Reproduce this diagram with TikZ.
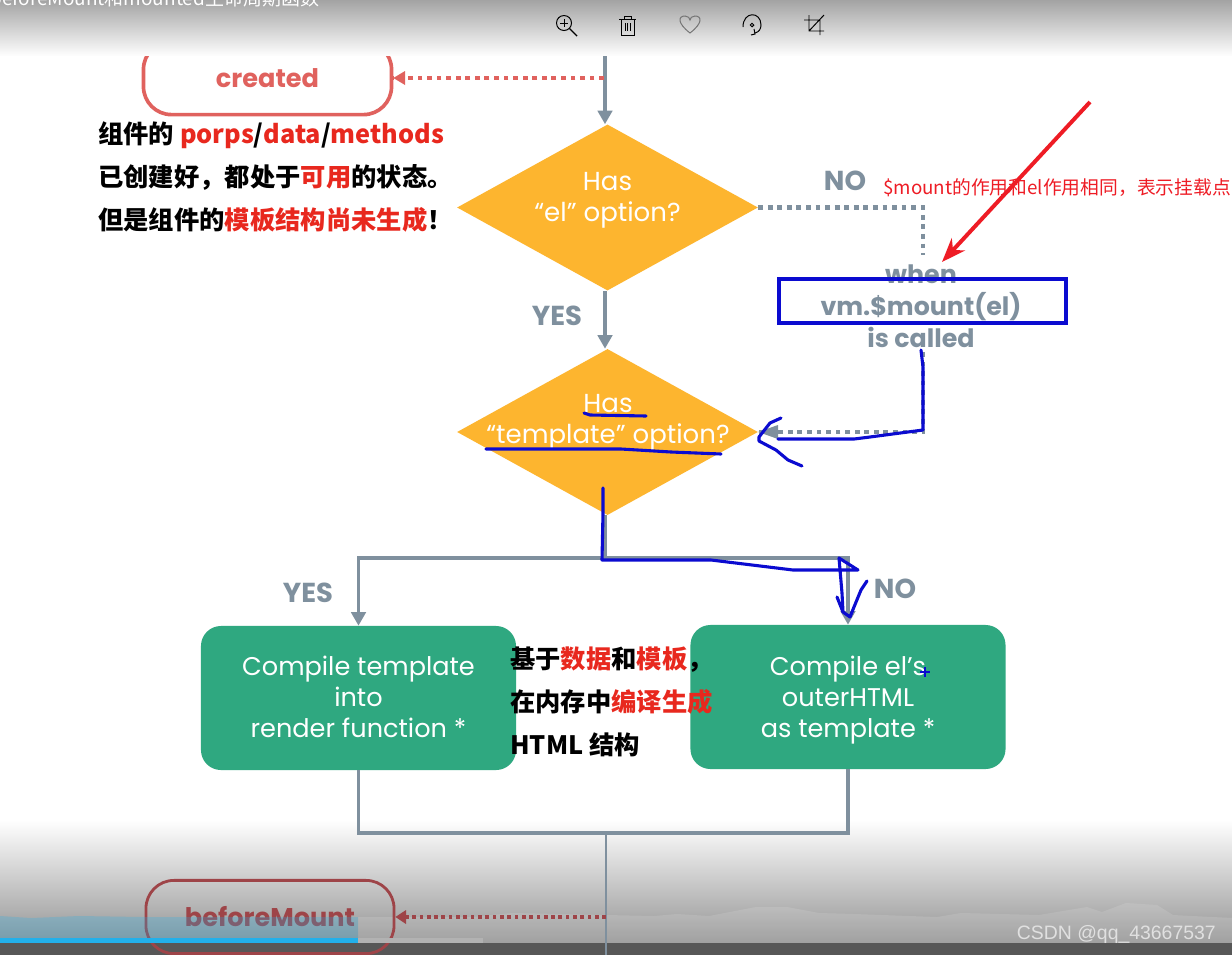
\documentclass[tikz,border=0pt]{standalone}
\usepackage{fontspec}
\setmainfont{Poppins}
\newfontfamily\cjk{Noto Sans CJK SC}
\newfontfamily\wmfont{Liberation Sans}
\usetikzlibrary{positioning,arrows.meta,shapes.geometric}
\definecolor{flowgray}{HTML}{7F909E}
\definecolor{dmdorange}{HTML}{FDB52F}
\definecolor{boxgreen}{HTML}{2FA880}
\definecolor{hookred}{HTML}{E0625E}
\definecolor{darkred}{HTML}{9E4448}
\definecolor{notered}{HTML}{E8281E}
\definecolor{penblue}{HTML}{0B0BD0}
\definecolor{arrowred}{HTML}{EE1C25}
\definecolor{barblue}{HTML}{22B0EA}
\newcommand{\hl}[1]{\textcolor{notered}{#1}}
\tikzset{
  dmd/.style={diamond,fill=dmdorange,inner sep=0pt,minimum width=7.52cm,minimum height=4.15cm},
  dmdtext/.style={text=white,align=center,font=\fontsize{18.5}{22}\selectfont},
  greenbox/.style={fill=boxgreen,rounded corners=0.5cm,minimum width=7.875cm,minimum height=3.6cm},
  boxtext/.style={text=white,align=center,font=\fontsize{18.2}{22.2}\selectfont},
  hookbox/.style={draw=#1,rounded corners=0.7cm,minimum width=6.2cm,minimum height=1.83cm,text=#1,font=\bfseries\fontsize{18.2}{20}\selectfont},
  flowlbl/.style={text=flowgray,font=\bfseries\fontsize{19.5}{22}\selectfont},
  note/.style={anchor=west,inner sep=0pt,align=left,font=\cjk\bfseries\fontsize{18}{30.6}\selectfont},
  flow/.style={draw=flowgray,line width=2.8pt},
  dots/.style={line width=3pt,dash pattern=on 3.4pt off 3.4pt},
  pen/.style={draw=penblue,line width=2.2pt,line cap=round,line join=round},
  icon/.style={draw=black,line width=0.7pt}
}
\begin{document}
\begin{tikzpicture}[x=0.025cm,y=-0.025cm,>={Triangle[length=3.4mm,width=3.6mm]}]
\useasboundingbox (0,0) rectangle (1232,955);
\clip (0,0) rectangle (1232,955);
\fill[white] (0,0) rectangle (1232,955);
\shade[top color=white,bottom color=black!42] (0,820) rectangle (1232,943);
\fill[fill=white,opacity=.12] (358,917) -- (472,917) -- (512,913) -- (606,915) -- (654,916) -- (677,914) -- (709,916) -- (756,907) -- (787,907) -- (819,913) -- (854,914) -- (937,917) -- (961,913) -- (1039,915) -- (1087,907) -- (1102,912) -- (1126,903) -- (1157,905) -- (1173,915) -- (1232,918) -- (1232,943) -- (358,943) -- cycle;
\fill[black!66] (0,943) rectangle (1232,955);
\node[hookbox=hookred,line width=2.6pt] (created) at (267.5,78) {created};
\node[hookbox=darkred,line width=2pt] (beforemount) at (270,917) {beforeMount};
\fill[fill=barblue,opacity=.25] (0,916) -- (31,918) -- (79,916) -- (142,917) -- (358,917) -- (358,938) -- (0,938) -- cycle;
\fill[black!30] (358,938) rectangle (483,943);
\fill[barblue] (0,938) rectangle (358,943);
\node[dmd] (d1) at (607.5,207.5) {};
\node[dmd] (d2) at (607.5,432) {};
\node[dmdtext] (d1text) at (607.5,200) {Has\\“el” option?};
\node[dmdtext] (d2text) at (608,422) {Has\\“template” option?};
\node[greenbox] (leftbox) at (358.5,698) {};
\node[greenbox] (rightbox) at (848,697) {};
\node[boxtext] (lefttext) at (358.5,696.7) {Compile template\\into\\render function *};
\node[boxtext] (righttext) at (848,700) {Compile el’s\\outerHTML\\as template *};
\node[flowlbl,align=center,font=\bfseries\fontsize{18}{22.8}\selectfont] (called) at (921,306.5) {when\\vm.\$mount(el)\\is called};
\node[flowlbl] (yes1) at (557,316) {YES};
\node[flowlbl] (no1) at (845,181) {NO};
\node[flowlbl] (yes2) at (308,593) {YES};
\node[flowlbl] (no2) at (895,589) {NO};
\coordinate (topin) at (605,40);
\coordinate (split) at (605,558);
\coordinate (merge) at (606,833);
\coordinate (bottomout) at (606,955);
\coordinate (hookone) at (604,78);
\coordinate (hooktwo) at (606,917);
\coordinate (corner1) at (923,207.5);
\coordinate (dotsend) at (923,255);
\coordinate (corner2) at (923,432);
\coordinate (calledend) at (923,352);
\draw[flow,->] (topin) -- (topin |- d1.north);
\draw[flow,->] (topin |- d1.south) -- (topin |- d2.north);
\draw[flow] (topin |- d2.south) -- (split);
\draw[flow,->] (split) -| (leftbox.north);
\draw[flow,->] (split) -| (rightbox.north);
\draw[flow] (leftbox.south) |- (merge) -| (rightbox.south);
\draw[flow,line width=2pt] (merge) -- (bottomout);
\draw[draw=flowgray,dots] (d1.east) -- (corner1) -- (dotsend);
\draw[draw=flowgray,dots] (calledend) -- (corner2) -- (d2.east);
\fill[flowgray] (d2.east) -- (778,425) -- (778,439) -- cycle;
\draw[draw=hookred,dots] (hookone) -- (created.east);
\fill[hookred] (created.east) -- (405,71) -- (405,85) -- cycle;
\draw[draw=darkred,line width=2.2pt,dash pattern=on 2.6pt off 2.6pt] (hooktwo) -- (beforemount.east);
\fill[darkred] (beforemount.east) -- (406,910) -- (406,924) -- cycle;
\shade[top color=black!36,middle color=black!12,bottom color=black!1] (0,0) rectangle (1232,55);
\node[text=white,anchor=west,inner sep=0pt,font=\cjk\fontsize{13.5}{16}\selectfont] (title) at (-10,-2) {beforeMount和mounted生命周期函数};
\node[note] (notecreated) at (98,177) {组件的 \hl{porps}/\hl{data}/\hl{methods}\\已创建好，都处于\hl{可用}的状态。\\但是组件的\hl{模板结构尚未生成}！};
\node[note] (notecompile) at (510,702) {基于\hl{数据}和\hl{模板}，\\在内存中\hl{编译生成}\\HTML 结构};
\node[anchor=west,inner sep=0pt,text=arrowred,font=\cjk\fontsize{13.35}{16}\selectfont] (mountnote) at (883,188) {\$mount的作用和el作用相同，表示挂载点};
\draw[arrowred,line width=2.8pt,-{Stealth[length=6mm,width=4.5mm]}] (1090,102) -- (942,262);
\draw[penblue,line width=2.4pt] (779,279) rectangle (1066,323);
\draw[pen] (584,413) -- (590,415) -- (646,416);
\draw[pen] (486,449) -- (621,449) -- (671,452) -- (721,454);
\draw[pen] (603,488) -- (603,513) -- (602,560) -- (711,560) -- (793,570) -- (858,570) -- (839,558) -- (842,593) -- (843,612) -- (850,617) -- (854,607) -- (861,590) -- (867,581);
\draw[pen] (837,597) -- (843,612);
\draw[pen] (921,350) -- (923,367) -- (923,430) -- (870,437) -- (854,439) -- (778,439);
\draw[pen] (781,418) -- (770,423) -- (759,437) -- (759,441) -- (776,450) -- (788,460) -- (802,466);
\draw[penblue,line width=0.8pt] (920,672) -- (930,672) (925,667) -- (925,677);
\draw[icon] (564,23) circle (7.5);
\draw[icon] (560,23) -- (568,23) (564,19) -- (564,27);
\draw[icon,line width=1pt] (569.5,28.5) -- (577,36);
\draw[icon] (619,19) -- (636,19) (624,19) -- (624,16) -- (631,16) -- (631,19);
\draw[icon] (621,19) rectangle (634,35);
\draw[icon] (625,23) -- (625,31) (627.5,23) -- (627.5,31) (630,23) -- (630,31);
\draw[draw=black!55,line width=0.7pt] (690,33) .. controls (677,23) and (678,16) .. (685,16) .. controls (688,16) and (690,18) .. (690,20) .. controls (690,18) and (692,16) .. (695,16) .. controls (702,16) and (703,23) .. (690,33) -- cycle;
\draw[icon] (743,27) .. controls (743,11) and (761,11) .. (761,25) .. controls (761,29) and (759,32) .. (755,33);
\draw[icon] (754,29) -- (755,34) -- (751,35);
\draw[icon] (752,25) circle (1.8);
\draw[icon] (809,15) -- (809,31) -- (824,31) (804,20) -- (820,20) -- (820,35) (809,31) -- (824,15);
\node[text=black!12,anchor=east,inner sep=0pt,font=\wmfont\fontsize{13.8}{16}\selectfont] (watermark) at (1216,934) {CSDN @qq\_43667537};
\end{tikzpicture}
\end{document}
